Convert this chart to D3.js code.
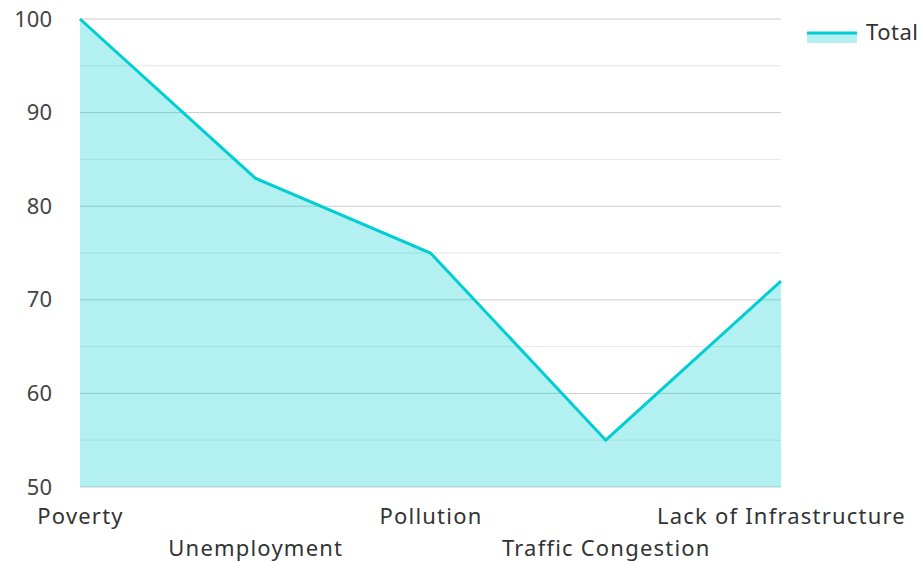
<!DOCTYPE html>
<html>
<head>
<meta charset="utf-8">
<script src="https://cdn.jsdelivr.net/npm/d3@7"></script>
<style>
  html, body { margin: 0; padding: 0; background: #fff; }
  svg { display: block; font-family: "Noto Sans", "Open Sans", sans-serif; }
</style>
</head>
<body>
<svg id="chart" width="922" height="562"></svg>
<script>
const categories = ['Poverty', 'Unemployment', 'Pollution', 'Traffic Congestion', 'Lack of Infrastructure'];
const totals = [100, 83, 75, 55, 72];
const yTicks = [50, 60, 70, 80, 90, 100];
const seriesName = 'Total';

const width = 922, height = 562;
const margin = { top: 19, right: 141, bottom: 75, left: 80 };
const color = '#00ced1';

const svg = d3.select('#chart');

const x = d3.scalePoint()
    .domain(categories)
    .range([margin.left, width - margin.right]);

const y = d3.scaleLinear()
    .domain([50, 100])
    .range([height - margin.bottom, margin.top]);

const data = categories.map((c, i) => ({ cat: c, value: totals[i] }));

// gridlines (under the semi-transparent fill)
const minor = d3.range(55, 100, 10);
svg.append('g')
    .selectAll('line')
    .data(minor)
    .join('line')
    .attr('x1', margin.left)
    .attr('x2', width - margin.right)
    .attr('y1', d => y(d))
    .attr('y2', d => y(d))
    .attr('stroke', '#e6e6e6')
    .attr('stroke-width', 1);

svg.append('g')
    .selectAll('line')
    .data(yTicks)
    .join('line')
    .attr('x1', margin.left)
    .attr('x2', width - margin.right)
    .attr('y1', d => y(d))
    .attr('y2', d => y(d))
    .attr('stroke', '#cccccc')
    .attr('stroke-width', 1);

const area = d3.area()
    .x(d => x(d.cat))
    .y0(y(50))
    .y1(d => y(d.value));

const line = d3.line()
    .x(d => x(d.cat))
    .y(d => y(d.value));

svg.append('path')
    .datum(data)
    .attr('d', area)
    .attr('fill', color)
    .attr('fill-opacity', 0.3);

svg.append('path')
    .datum(data)
    .attr('d', line)
    .attr('fill', 'none')
    .attr('stroke', color)
    .attr('stroke-width', 3)
    .attr('stroke-linejoin', 'miter');

// y axis labels
const yAxis = d3.axisLeft(y).tickValues(yTicks).tickSize(0).tickPadding(28);
const gy = svg.append('g')
    .attr('transform', `translate(${margin.left},0)`)
    .call(yAxis);
gy.select('.domain').remove();
gy.selectAll('text')
    .attr('font-size', 22)
    .attr('fill', '#444')
    .attr('font-family', '"Noto Sans", "Open Sans", sans-serif');

// x axis labels, staggered
const xAxis = d3.axisBottom(x).tickSize(0).tickPadding(0);
const gx = svg.append('g')
    .attr('transform', `translate(0,${y(50)})`)
    .call(xAxis);
gx.select('.domain').remove();
gx.selectAll('text')
    .attr('font-size', 22)
    .attr('letter-spacing', 1.2)
    .attr('fill', '#333')
    .attr('font-family', '"Noto Sans", "Open Sans", sans-serif')
    .attr('dy', null)
    .attr('y', (d, i) => i % 2 === 0 ? 37 : 69);

// legend
const legend = svg.append('g').attr('transform', 'translate(807,32)');
legend.append('rect')
    .attr('x', 0).attr('y', 0)
    .attr('width', 50).attr('height', 11)
    .attr('fill', color).attr('fill-opacity', 0.3);
legend.append('line')
    .attr('x1', 0).attr('x2', 50)
    .attr('y1', 1).attr('y2', 1)
    .attr('stroke', color).attr('stroke-width', 3);
legend.append('text')
    .attr('x', 59).attr('y', 8)
    .attr('font-size', 22)
    .attr('letter-spacing', 0.5)
    .attr('fill', '#333')
    .text(seriesName);
</script>
</body>
</html>
